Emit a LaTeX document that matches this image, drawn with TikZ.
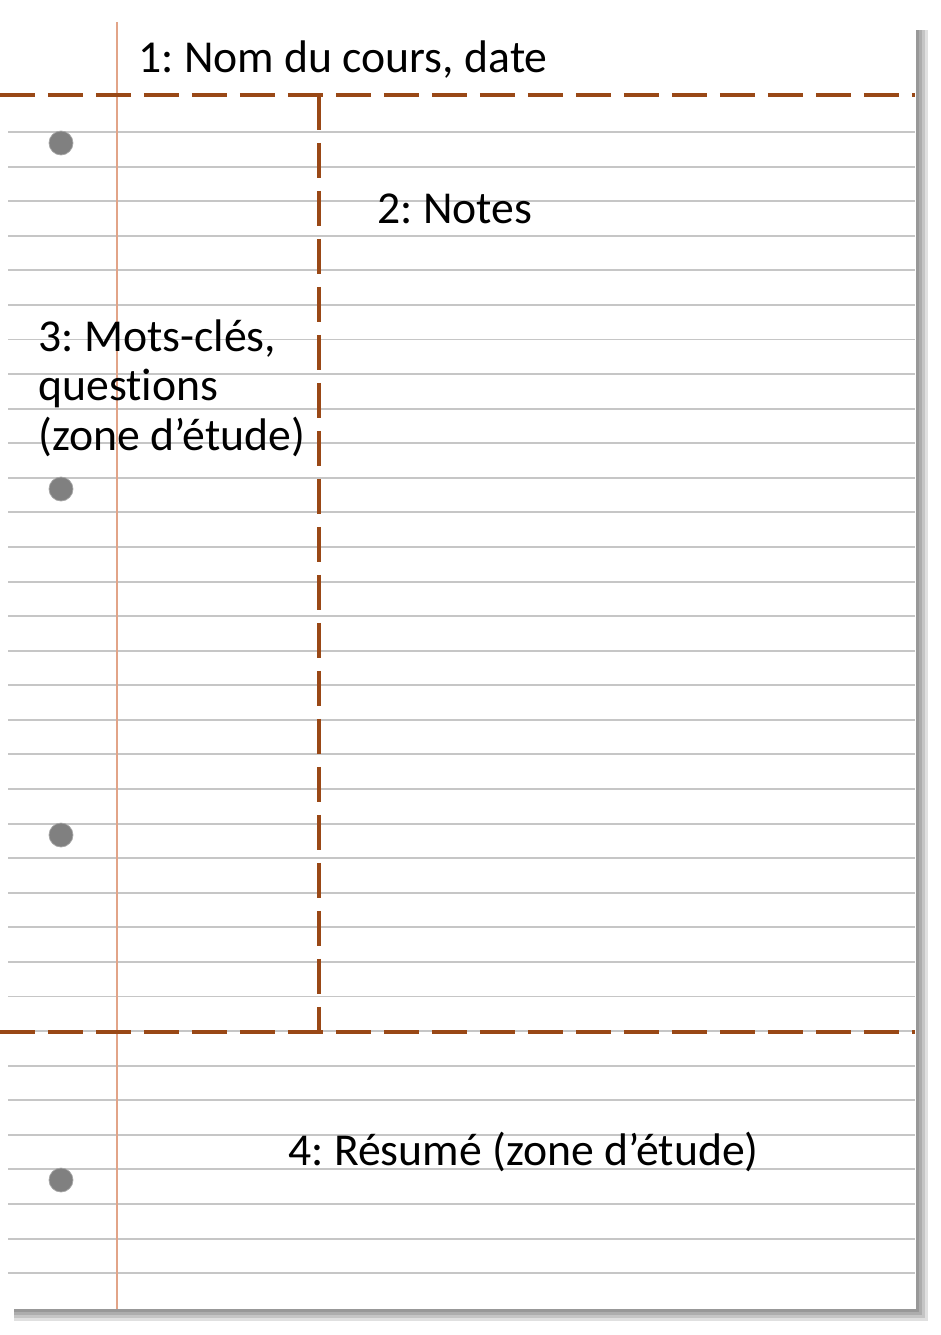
\documentclass[tikz,border=0pt]{standalone}
\usepackage{fontspec}
\setmainfont{Carlito}[RawFeature={-liga;-clig;-dlig;-hlig;-calt}]
\usetikzlibrary{backgrounds}
\definecolor{cutbrown}{RGB}{153,72,22}
\definecolor{marginred}{RGB}{226,164,136}
\definecolor{rulegray}{RGB}{198,198,198}
\frenchspacing

\begin{document}
\begin{tikzpicture}[x=0.02cm,y=-0.02cm]
\tikzstyle{every node}=[inner sep=0pt,anchor=base west,font=\fontsize{26}{27.9}\selectfont]
\tikzstyle{rule}=[draw=rulegray,line width=1.1pt]
\tikzstyle{cut}=[draw=cutbrown,line width=2.3pt,dash pattern=on 0.7cm off 0.26cm]
\useasboundingbox (0,0) rectangle (940,1335);
% shadow and sheet
\foreach \s in {3,6,9,12} \fill[black,opacity=0.12] (14,30) rectangle (916+\s,1309+\s);
\fill[white] (6,22) rectangle (916,1309);
% ruled lines
\foreach \k in {0,...,33} \draw[rule] (8,{132+34.58*\k}) -- (915,{132+34.58*\k});
\draw[marginred,line width=1.1pt] (117,22) -- (117,1309);
% holes
\foreach \y in {143,489,835,1180} \fill[black!50,draw=black!35] (61,\y) circle[radius=0.24cm];
% zones
\coordinate (tl) at (0,95);
\coordinate (tr) at (915,95);
\coordinate (mt) at (319,95);
\coordinate (mb) at (319,1032);
\coordinate (bl) at (0,1032);
\coordinate (br) at (915,1032);
\draw[cut] (tl) -- (tr);
\draw[cut] (mt) -- (mb);
\draw[cut] (bl) -- (br);
\node (title) at (138,72) {1: Nom du cours, date};
\node (notes) at (377,223) {2: Notes};
\node (keywords) [align=left] at (38,450) {3: Mots-clés,\\questions\\(zone d’étude)};
\node (summary) at (288,1165) {4: Résumé (zone d’étude)};
\end{tikzpicture}
\end{document}
